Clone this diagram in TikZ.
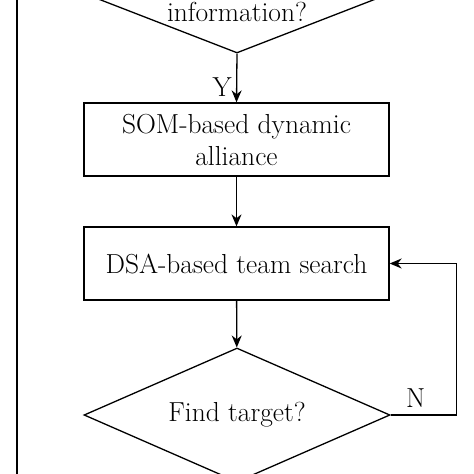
\documentclass[tikz,border=0pt]{standalone}
\usepackage{fontspec}
\usepackage{tikz}
\usetikzlibrary{arrows.meta,shapes.geometric,positioning}

\begin{document}
\begin{tikzpicture}[x=1pt,y=-1pt,line width=1.3pt,
  txt/.style={font=\fontsize{27.5}{32}\selectfont},
  box/.style={draw,txt,align=center,inner sep=0pt,minimum width=305pt,minimum height=73pt},
  decision/.style={draw,diamond,aspect=2.3,txt,inner sep=0pt},
  flow/.style={-{Stealth[length=12pt,width=10pt]}}]
  \useasboundingbox (0,0) rectangle (474,474);
  \clip (0,0) rectangle (474,474);
  % outer return line on the left
  \draw (17,-20) -- (17,500);
  \node[decision,minimum width=376pt,minimum height=146pt] (info) at (237,-20) {};
  \node[txt] (infotext) at (237,12) {information?};
  \node[box] (som) at (236.5,139.5) {SOM-based dynamic\\alliance};
  \node[box] (dsa) at (236.5,263.5) {DSA-based team search};
  \node[decision,minimum width=306pt,minimum height=134pt] (find) at (237,415) {Find target?};
  \draw[flow] (info.south) -- node[txt,pos=0.68,left=1pt] {Y} (som.north);
  \draw[flow] (som) -- (dsa);
  \draw[flow] (dsa) -- (find);
  \draw[flow] (find.east) -- ++(66,0) coordinate (turn)
    node[txt,pos=0.38,above=4pt] {N} |- (dsa.east);
\end{tikzpicture}
\end{document}
